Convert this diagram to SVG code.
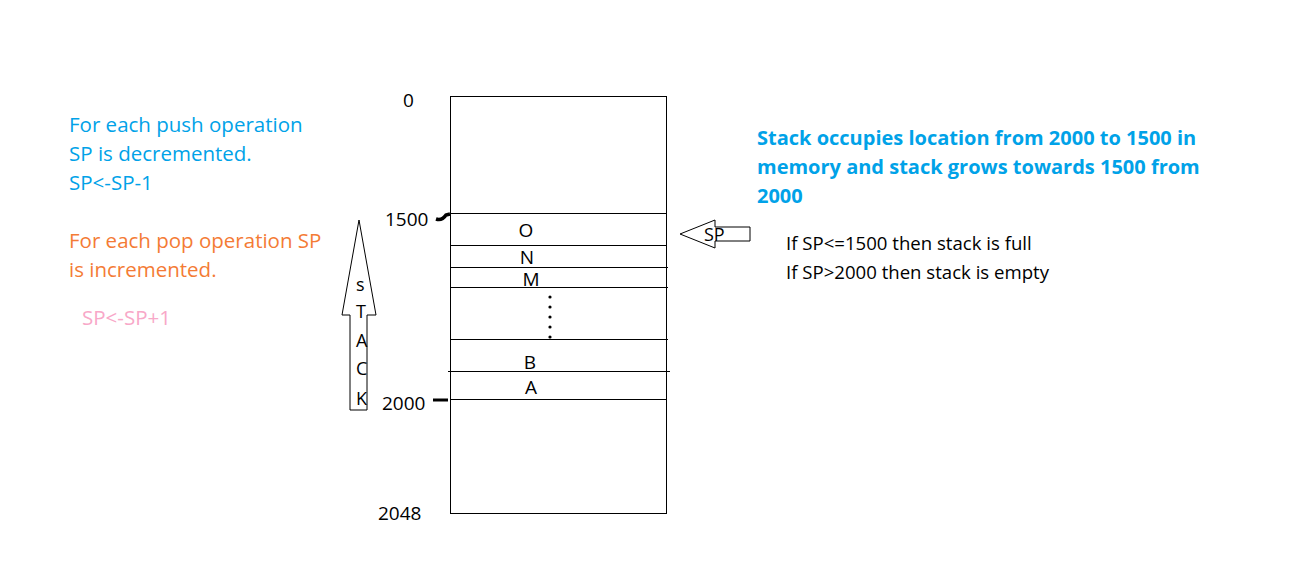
<svg xmlns="http://www.w3.org/2000/svg" width="1316" height="561" viewBox="0 0 1316 561">
<style>
text{font-family:"Open Sans","Noto Sans",sans-serif;font-size:19px}
.l{stroke:#000;stroke-width:1;fill:none}
.c{font-size:18px}
.n{font-size:20.5px}
</style>
<rect width="1316" height="561" fill="#fff"/>
<g id="memory">
<rect x="450.5" y="96.5" width="216" height="417" class="l"/>
<line x1="450" y1="213.5" x2="667" y2="213.5" class="l"/>
<line x1="450" y1="245.5" x2="667" y2="245.5" class="l"/>
<line x1="450" y1="267.5" x2="668" y2="267.5" class="l"/>
<line x1="450" y1="287.5" x2="668" y2="287.5" class="l"/>
<line x1="450" y1="339.5" x2="668" y2="339.5" class="l"/>
<line x1="448" y1="371.5" x2="670" y2="371.5" class="l"/>
<line x1="450" y1="399.5" x2="666" y2="399.5" class="l"/>
<text x="526" y="237" text-anchor="middle">O</text>
<text x="527" y="264" text-anchor="middle">N</text>
<text x="531" y="286" text-anchor="middle">M</text>
<text x="530" y="369" text-anchor="middle">B</text>
<text x="531" y="394" text-anchor="middle">A</text>
<g fill="#000"><circle cx="550" cy="297" r="1.6"/><circle cx="550" cy="307" r="1.6"/><circle cx="550" cy="317" r="1.6"/><circle cx="550" cy="327" r="1.6"/><circle cx="550" cy="337" r="1.6"/></g>
<text x="403" y="107">0</text>
<text x="385" y="226">1500</text>
<text x="382" y="410">2000</text>
<text x="378" y="520">2048</text>
<path d="M436 219 Q442 221 446 215 L450 214" stroke="#000" stroke-width="3.5" fill="none"/>
<line x1="433" y1="400" x2="448" y2="400" stroke="#000" stroke-width="3"/>
</g>
<g id="stack-arrow">
<path d="M350 410 V315 H342 L359 220 L376 315 H367 V410 Z" class="l"/>
<text x="356" y="291" class="c">s</text>
<text x="356" y="318" class="c">T</text>
<text x="356" y="347" class="c">A</text>
<text x="356" y="375" class="c">C</text>
<text x="356" y="405" class="c">K</text>
</g>
<g id="sp-arrow">
<path d="M680 234 L715 220 V227 H750 V241 H715 V248 Z" class="l"/>
<text x="704" y="241" class="c">SP</text>
</g>
<g id="notes">
<text x="69" y="132" fill="#00a2e8" class="n">For each push operation</text>
<text x="69" y="161" fill="#00a2e8" class="n">SP is decremented.</text>
<text x="69" y="190" fill="#00a2e8" class="n">SP&lt;-SP-1</text>
<text x="69" y="248" fill="#f47b35" class="n">For each pop operation SP</text>
<text x="69" y="277" fill="#f47b35" class="n">is incremented.</text>
<text x="82" y="325" fill="#f8a8c8" class="n">SP&lt;-SP+1</text>
<text x="757" y="145" fill="#00a2e8" font-weight="bold" style="font-size:20px">Stack occupies location from 2000 to 1500 in</text>
<text x="757" y="174" fill="#00a2e8" font-weight="bold" style="font-size:20px">memory and stack grows towards 1500 from</text>
<text x="757" y="203" fill="#00a2e8" font-weight="bold" style="font-size:20px">2000</text>
<text x="786" y="250" style="font-size:18.6px">If SP&lt;=1500 then stack is full</text>
<text x="786" y="279" style="font-size:18.6px">If SP&gt;2000 then stack is empty</text>
</g>
</svg>
